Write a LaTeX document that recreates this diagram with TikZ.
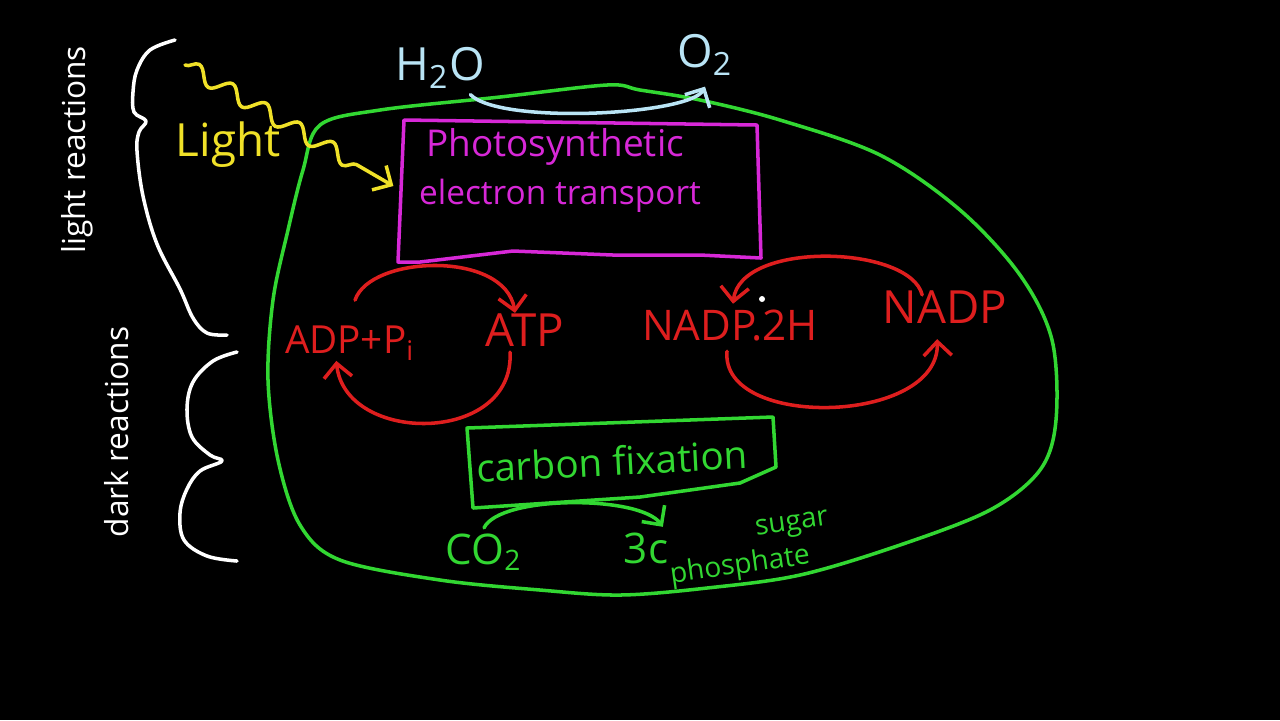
\documentclass[tikz,border=0pt]{standalone}
\usepackage{fontspec}
\setmainfont{Open Sans}
\usetikzlibrary{arrows.meta,decorations.pathmorphing,calc}
\definecolor{cgreen}{RGB}{50,215,50}
\definecolor{cmag}{RGB}{215,40,215}
\definecolor{cred}{RGB}{222,30,30}
\definecolor{cyel}{RGB}{240,225,40}
\definecolor{cblue}{RGB}{185,228,245}
\begin{document}
\begin{tikzpicture}[x=0.01cm,y=-0.01cm,line cap=round,line join=round,
  stroke/.style={line width=1pt},
  barb/.style={-{Straight Barb[length=4pt,width=8pt]}},
  lbl/.style={inner sep=0pt,anchor=center},
  fs/.style={font=\fontsize{#1}{#1}\selectfont}]
\fill[black] (0,0) rectangle (1280,720);
\useasboundingbox (0,0) rectangle (1280,720);

% vertical labels
\node[lbl,white,rotate=90,fs=9] (lr) at (77,150) {light reactions};
\node[lbl,white,rotate=90,fs=9] (dr) at (117,432) {dark reactions};

% braces
\draw[white,stroke] plot[smooth,tension=0.6] coordinates {(175,40) (150,50) (137,70) (133,92) (134,112) (146,121) (139,132) (137,151) (143,196) (157,244) (180,289) (193,318) (207,333) (227,335)};
\draw[white,stroke] plot[smooth,tension=0.6] coordinates {(237,352) (213,361) (193,382) (187,409) (192,437) (210,455) (222,461) (200,471) (187,489) (180,513) (184,540) (207,556) (237,561)};

% chloroplast outline
\draw[cgreen,stroke] plot[smooth cycle,tension=0.55] coordinates {(320,125) (380,110) (500,97) (607,85) (640,90) (700,100) (780,120) (880,155) (960,210) (1020,275) (1052,340) (1056,420) (1040,470) (990,510) (900,545) (800,575) (707,588) (620,595) (540,590) (440,580) (340,560) (300,525) (278,460) (268,380) (273,300) (288,230) (303,170)};

% photosynthetic electron transport box
\draw[cmag,stroke] (404,120) -- (757,125) -- (761,258) -- (700,255) -- (613,255) -- (513,251) -- (420,262) -- (398,262) -- cycle;
\node[lbl,cmag,fs=10.5] (pet1) at (555,147) {Photosynthetic};
\node[lbl,cmag,fs=9.5] (pet2) at (560,196) {electron transport};

% water / oxygen
\node[lbl,cblue,fs=13] (h2o) at (440,68) {H\textsubscript{2}O};
\node[lbl,cblue,fs=13] (o2) at (705,55) {O\textsubscript{2}};
\draw[cblue,stroke,barb] ($(h2o.south east)+(-15,5)$) .. controls (500,125) and (690,115) .. ($(o2.south)+(0,10)$);

% light
\node[lbl,cyel,fs=13] (light) at (228,145) {Light};
\coordinate (lstart) at (185,65);
\draw[cyel,stroke,barb,decorate,decoration={snake,amplitude=2.2pt,segment length=11pt,post length=8pt}] (lstart) -- ($(pet2.west)+(-25,-10)$);

% ATP cycle
\node[lbl,cred,fs=11] (adp) at (350,343) {ADP+P\textsubscript{i}};
\node[lbl,cred,fs=13] (atp) at (525,330) {ATP};
\draw[cred,stroke,barb] ($(adp.north)+(5,-25)$) .. controls (370,255) and (505,250) .. ($(atp.north west)+(30,0)$);
\draw[cred,stroke,barb] ($(atp.south west)+(25,5)$) .. controls (515,445) and (345,445) .. ($(adp.south west)+(52,0)$);

% NADP cycle
\node[lbl,cred,fs=12] (nadph) at (730,325) {NADP.2H};
\node[lbl,cred,fs=13] (nadp) at (945,307) {NADP};
\draw[cred,stroke,barb] ($(nadp.north west)+(40,5)$) .. controls (910,245) and (740,240) .. ($(nadph.north)+(3,-5)$);
\draw[cred,stroke,barb] ($(nadph.south)+(-3,10)$) .. controls (720,430) and (940,425) .. ($(nadp.south west)+(55,15)$);
\fill[white] (762,299) circle (3);

% carbon fixation
\draw[cgreen,stroke] (467,428) -- (773,417) -- (776,467) -- (740,483) -- (640,497) -- (473,508) -- cycle;
\node[lbl,cgreen,fs=11,rotate=3] (cf) at (612,461) {carbon fixation};
\node[lbl,cgreen,fs=12] (co2) at (484,552) {CO\textsubscript{2}};
\node[lbl,cgreen,fs=12] (c3) at (646,548) {3c};
\node[lbl,cgreen,fs=8,rotate=8] (sugar) at (792,526) {sugar};
\node[lbl,cgreen,fs=8,rotate=8] (phos) at (740,566) {phosphate};
\draw[cgreen,stroke,barb] ($(co2.north)+(0,-5)$) .. controls (500,495) and (640,495) .. ($(c3.north east)+(-6,-5)$);
\end{tikzpicture}
\end{document}
